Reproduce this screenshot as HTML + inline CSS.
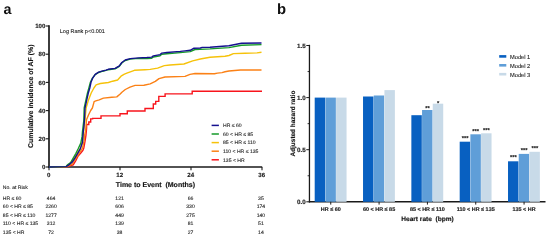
<!DOCTYPE html>
<html><head><meta charset="utf-8"><style>
html,body{margin:0;padding:0;background:#fff;}
svg{display:block;font-family:"Liberation Sans", sans-serif;will-change:transform;text-rendering:geometricPrecision;}
</style></head><body>
<svg width="550" height="238" viewBox="0 0 550 238">
<rect width="550" height="238" fill="#fff"/>
<text x="3.5" y="13.9" font-size="14.3" font-weight="bold" fill="#111">a</text>
<line x1="49" y1="25.3" x2="49" y2="167.8" stroke="#1a1a1a" stroke-width="1.7"/>
<line x1="45.8" y1="167.00" x2="49" y2="167.00" stroke="#1a1a1a" stroke-width="1.1"/>
<text x="45.3" y="169.15" font-size="6.1" font-weight="bold" stroke="#222" stroke-width="0.15" text-anchor="end" fill="#222">0</text>
<line x1="45.8" y1="138.80" x2="49" y2="138.80" stroke="#1a1a1a" stroke-width="1.1"/>
<text x="45.3" y="140.95" font-size="6.1" font-weight="bold" stroke="#222" stroke-width="0.15" text-anchor="end" fill="#222">20</text>
<line x1="45.8" y1="110.60" x2="49" y2="110.60" stroke="#1a1a1a" stroke-width="1.1"/>
<text x="45.3" y="112.75" font-size="6.1" font-weight="bold" stroke="#222" stroke-width="0.15" text-anchor="end" fill="#222">40</text>
<line x1="45.8" y1="82.40" x2="49" y2="82.40" stroke="#1a1a1a" stroke-width="1.1"/>
<text x="45.3" y="84.55" font-size="6.1" font-weight="bold" stroke="#222" stroke-width="0.15" text-anchor="end" fill="#222">60</text>
<line x1="45.8" y1="54.20" x2="49" y2="54.20" stroke="#1a1a1a" stroke-width="1.1"/>
<text x="45.3" y="56.35" font-size="6.1" font-weight="bold" stroke="#222" stroke-width="0.15" text-anchor="end" fill="#222">80</text>
<line x1="45.8" y1="26.00" x2="49" y2="26.00" stroke="#1a1a1a" stroke-width="1.1"/>
<text x="45.3" y="28.15" font-size="6.1" font-weight="bold" stroke="#222" stroke-width="0.15" text-anchor="end" fill="#222">100</text>
<line x1="48.2" y1="167" x2="262.2" y2="167" stroke="#1a1a1a" stroke-width="1.6"/>
<line x1="49" y1="167" x2="49" y2="170.2" stroke="#1a1a1a" stroke-width="1.1"/>
<text x="48.7" y="177" font-size="6.1" font-weight="bold" stroke="#222" stroke-width="0.15" text-anchor="middle" fill="#222">0</text>
<line x1="120" y1="167" x2="120" y2="170.2" stroke="#1a1a1a" stroke-width="1.1"/>
<text x="119.7" y="177" font-size="6.1" font-weight="bold" stroke="#222" stroke-width="0.15" text-anchor="middle" fill="#222">12</text>
<line x1="191" y1="167" x2="191" y2="170.2" stroke="#1a1a1a" stroke-width="1.1"/>
<text x="190.7" y="177" font-size="6.1" font-weight="bold" stroke="#222" stroke-width="0.15" text-anchor="middle" fill="#222">24</text>
<line x1="262" y1="167" x2="262" y2="170.2" stroke="#1a1a1a" stroke-width="1.1"/>
<text x="261.7" y="177" font-size="6.1" font-weight="bold" stroke="#222" stroke-width="0.15" text-anchor="middle" fill="#222">36</text>
<text x="155.4" y="187" font-size="7" font-weight="bold" stroke="#222" stroke-width="0.15" text-anchor="middle" fill="#111" xml:space="preserve">Time to Event  (Months)</text>
<text transform="translate(32.8,96.2) rotate(-90)" font-size="6.95" font-weight="bold" stroke="#222" stroke-width="0.15" text-anchor="middle" fill="#111">Cumulative incidence of AF (%)</text>
<text x="59.8" y="33" font-size="5.5" fill="#222" stroke="#222" stroke-width="0.1">Log Rank p&lt;0.001</text>
<path d="M49,167 H66.1 L69,166 L73.2,164.8 L75.8,160.6 L77.9,156.4 L80.8,153 L82.9,150.5 L83.8,148 L85,141.4 L85.9,135.6 L86.4,130.5 L86.6,128 V124.5 H88.8 V122 H90.7 V118.9 H92.6 V118.4 H101 V115.9 H120 V113.8 H127.3 V111 H145 V108.5 H153.3 V104 H155.7 V101.4 H158.8 V96.4 H165.1 V93.9 H192.2 V91.3 H262" fill="none" stroke="#f8141c" stroke-width="1.4"/>
<polyline points="49.0,167.0 66.1,166.6 69.0,165.5 72.4,164.0 76.6,157.2 81.6,149.7 82.5,148.0 84.2,140.6 84.6,135.6 85.4,131.4 85.9,128.0 86.5,119.8 88.6,114.7 90.7,110.5 92.4,108.0 94.2,101.4 95.0,101.2 99.2,99.8 103.4,98.1 111.8,97.2 116.8,96.9 120.2,94.0 121.9,92.2 125.3,89.5 130.0,87.1 135.1,85.4 143.9,85.2 150.2,83.9 155.3,81.4 159.0,78.6 165.0,77.0 185.0,76.4 190.0,74.4 195.1,73.5 214.4,73.8 217.5,73.1 222.0,72.6 225.0,71.8 229.0,71.0 240.5,70.0 261.5,70.0" fill="none" stroke="#fb8116" stroke-width="1.4" stroke-linejoin="round"/>
<polyline points="49.0,167.0 66.1,166.6 69.5,164.0 73.0,160.0 74.9,156.8 77.5,152.5 80.4,148.4 82.8,140.0 83.6,130.0 85.0,120.0 86.1,108.0 88.3,100.6 91.2,93.0 93.9,88.0 96.1,84.8 100.3,83.5 108.4,82.5 112.6,81.2 117.6,80.0 121.0,76.2 124.4,74.1 127.5,72.9 131.0,71.6 134.4,70.3 145.0,69.7 150.2,69.4 157.6,68.1 164.3,65.6 170.0,65.0 183.9,64.0 192.7,60.9 200.3,59.0 210.0,57.3 225.0,56.3 229.0,55.5 233.4,53.6 245.0,53.3 257.0,52.9 261.5,52.2" fill="none" stroke="#f6c20a" stroke-width="1.4" stroke-linejoin="round"/>
<polyline points="49.0,167.0 66.1,166.6 67.4,164.8 70.7,162.7 73.2,158.1 75.8,153.5 78.3,148.5 80.8,143.1 82.1,136.4 82.5,131.4 82.9,128.0 83.8,120.6 84.2,108.0 85.8,100.6 87.5,93.0 88.9,88.0 90.4,82.3 92.4,78.1 95.2,74.6 98.6,72.5 102.8,71.2 106.0,70.4 108.2,69.7 115.1,68.8 119.3,66.4 121.8,63.0 125.2,60.5 130.2,59.1 138.6,58.4 146.9,58.6 151.7,58.2 153.4,57.0 160.1,55.7 161.8,54.3 166.8,53.7 180.3,52.6 190.2,51.6 195.0,49.5 210.0,48.9 228.9,47.6 241.5,45.2 261.5,44.6" fill="none" stroke="#169a2a" stroke-width="1.4" stroke-linejoin="round"/>
<polyline points="49.0,167.0 66.1,166.6 69.0,164.8 72.4,161.9 74.9,158.1 77.4,153.9 80.4,148.6 82.5,142.3 82.9,136.4 83.3,131.4 83.8,128.0 84.6,118.1 85.0,108.0 86.6,100.6 88.3,93.0 89.8,88.0 91.0,82.3 92.7,78.1 95.2,74.3 98.6,72.2 102.8,70.9 106.0,70.1 108.2,69.3 115.1,68.4 119.3,65.9 121.8,62.5 125.2,60.0 130.2,58.6 138.6,57.9 146.9,57.5 151.7,57.1 153.4,55.9 160.1,54.6 161.8,53.1 166.8,52.5 180.3,51.4 185.0,50.9 190.2,50.3 194.0,48.2 200.3,48.0 202.2,47.4 210.0,47.2 228.9,45.8 241.5,43.2 261.5,43.0" fill="none" stroke="#15108f" stroke-width="1.4" stroke-linejoin="round"/>
<line x1="211.6" y1="125.40" x2="218.9" y2="125.40" stroke="#15108f" stroke-width="1.5"/>
<text x="223" y="127.20" font-size="5.1" fill="#222" stroke="#222" stroke-width="0.1">HR ≤ 60</text>
<line x1="211.6" y1="134.00" x2="218.9" y2="134.00" stroke="#169a2a" stroke-width="1.5"/>
<text x="223" y="135.80" font-size="5.1" fill="#222" stroke="#222" stroke-width="0.1">60 &lt; HR ≤ 85</text>
<line x1="211.6" y1="142.60" x2="218.9" y2="142.60" stroke="#f6c20a" stroke-width="1.5"/>
<text x="223" y="144.40" font-size="5.1" fill="#222" stroke="#222" stroke-width="0.1">85 &lt; HR ≤ 110</text>
<line x1="211.6" y1="151.20" x2="218.9" y2="151.20" stroke="#fb8116" stroke-width="1.5"/>
<text x="223" y="153.00" font-size="5.1" fill="#222" stroke="#222" stroke-width="0.1">110 &lt; HR ≤ 135</text>
<line x1="211.6" y1="159.80" x2="218.9" y2="159.80" stroke="#f8141c" stroke-width="1.5"/>
<text x="223" y="161.60" font-size="5.1" fill="#222" stroke="#222" stroke-width="0.1">135 &lt; HR</text>
<text x="2.8" y="188.8" font-size="5.1" fill="#222" stroke="#222" stroke-width="0.1">No. at Risk</text>
<text x="2.8" y="199.80" font-size="5.1" fill="#222" stroke="#222" stroke-width="0.1">HR ≤ 60</text>
<text x="51.1" y="199.80" font-size="5.1" text-anchor="middle" fill="#222" stroke="#222" stroke-width="0.1">464</text>
<text x="119.6" y="199.80" font-size="5.1" text-anchor="middle" fill="#222" stroke="#222" stroke-width="0.1">121</text>
<text x="190.5" y="199.80" font-size="5.1" text-anchor="middle" fill="#222" stroke="#222" stroke-width="0.1">66</text>
<text x="260.9" y="199.80" font-size="5.1" text-anchor="middle" fill="#222" stroke="#222" stroke-width="0.1">35</text>
<text x="2.8" y="208.35" font-size="5.1" fill="#222" stroke="#222" stroke-width="0.1">60 &lt; HR ≤ 85</text>
<text x="51.1" y="208.35" font-size="5.1" text-anchor="middle" fill="#222" stroke="#222" stroke-width="0.1">2260</text>
<text x="119.6" y="208.35" font-size="5.1" text-anchor="middle" fill="#222" stroke="#222" stroke-width="0.1">606</text>
<text x="190.5" y="208.35" font-size="5.1" text-anchor="middle" fill="#222" stroke="#222" stroke-width="0.1">330</text>
<text x="260.9" y="208.35" font-size="5.1" text-anchor="middle" fill="#222" stroke="#222" stroke-width="0.1">174</text>
<text x="2.8" y="216.90" font-size="5.1" fill="#222" stroke="#222" stroke-width="0.1">85 &lt; HR ≤ 110</text>
<text x="51.1" y="216.90" font-size="5.1" text-anchor="middle" fill="#222" stroke="#222" stroke-width="0.1">1277</text>
<text x="119.6" y="216.90" font-size="5.1" text-anchor="middle" fill="#222" stroke="#222" stroke-width="0.1">449</text>
<text x="190.5" y="216.90" font-size="5.1" text-anchor="middle" fill="#222" stroke="#222" stroke-width="0.1">275</text>
<text x="260.9" y="216.90" font-size="5.1" text-anchor="middle" fill="#222" stroke="#222" stroke-width="0.1">140</text>
<text x="2.8" y="225.45" font-size="5.1" fill="#222" stroke="#222" stroke-width="0.1">110 &lt; HR ≤ 135</text>
<text x="51.1" y="225.45" font-size="5.1" text-anchor="middle" fill="#222" stroke="#222" stroke-width="0.1">312</text>
<text x="119.6" y="225.45" font-size="5.1" text-anchor="middle" fill="#222" stroke="#222" stroke-width="0.1">139</text>
<text x="190.5" y="225.45" font-size="5.1" text-anchor="middle" fill="#222" stroke="#222" stroke-width="0.1">81</text>
<text x="260.9" y="225.45" font-size="5.1" text-anchor="middle" fill="#222" stroke="#222" stroke-width="0.1">51</text>
<text x="2.8" y="234.00" font-size="5.1" fill="#222" stroke="#222" stroke-width="0.1">135 &lt; HR</text>
<text x="51.1" y="234.00" font-size="5.1" text-anchor="middle" fill="#222" stroke="#222" stroke-width="0.1">72</text>
<text x="119.6" y="234.00" font-size="5.1" text-anchor="middle" fill="#222" stroke="#222" stroke-width="0.1">38</text>
<text x="190.5" y="234.00" font-size="5.1" text-anchor="middle" fill="#222" stroke="#222" stroke-width="0.1">27</text>
<text x="260.9" y="234.00" font-size="5.1" text-anchor="middle" fill="#222" stroke="#222" stroke-width="0.1">14</text>
<text x="277.1" y="13.9" font-size="14.8" font-weight="bold" fill="#111">b</text>
<line x1="309.45" y1="44.8" x2="309.45" y2="202.5" stroke="#1a1a1a" stroke-width="1.3"/>
<line x1="306.3" y1="201.80" x2="309.45" y2="201.80" stroke="#1a1a1a" stroke-width="1.0"/>
<text x="305.7" y="204.10" font-size="6.2" font-weight="bold" stroke="#222" stroke-width="0.15" text-anchor="end" fill="#222">0.0</text>
<line x1="306.3" y1="149.70" x2="309.45" y2="149.70" stroke="#1a1a1a" stroke-width="1.0"/>
<text x="305.7" y="152.00" font-size="6.2" font-weight="bold" stroke="#222" stroke-width="0.15" text-anchor="end" fill="#222">0.5</text>
<line x1="306.3" y1="97.60" x2="309.45" y2="97.60" stroke="#1a1a1a" stroke-width="1.0"/>
<text x="305.7" y="99.90" font-size="6.2" font-weight="bold" stroke="#222" stroke-width="0.15" text-anchor="end" fill="#222">1.0</text>
<line x1="306.3" y1="45.50" x2="309.45" y2="45.50" stroke="#1a1a1a" stroke-width="1.0"/>
<text x="305.7" y="47.80" font-size="6.2" font-weight="bold" stroke="#222" stroke-width="0.15" text-anchor="end" fill="#222">1.5</text>
<line x1="307.6" y1="175.75" x2="309.45" y2="175.75" stroke="#1a1a1a" stroke-width="0.9"/>
<line x1="307.6" y1="123.65" x2="309.45" y2="123.65" stroke="#1a1a1a" stroke-width="0.9"/>
<line x1="307.6" y1="71.55" x2="309.45" y2="71.55" stroke="#1a1a1a" stroke-width="0.9"/>
<line x1="308.84999999999997" y1="201.8" x2="545.5" y2="201.8" stroke="#1a1a1a" stroke-width="1.4"/>
<text transform="translate(295.0,123.6) rotate(-90)" font-size="6.45" font-weight="bold" stroke="#222" stroke-width="0.15" text-anchor="middle" fill="#111">Adjusted hazard ratio</text>
<rect x="314.70" y="97.6" width="10.45" height="104.20" fill="#0860c1"/>
<rect x="325.40" y="97.6" width="10.45" height="104.20" fill="#5f9ed8"/>
<rect x="336.10" y="97.6" width="10.45" height="104.20" fill="#c8dae8"/>
<line x1="330.75" y1="201.8" x2="330.75" y2="204.6" stroke="#1a1a1a" stroke-width="1.0"/>
<text x="330.75" y="211" font-size="5.45" font-weight="bold" stroke="#222" stroke-width="0.15" text-anchor="middle" fill="#222">HR ≤ 60</text>
<rect x="363.03" y="96.5" width="10.45" height="105.30" fill="#0860c1"/>
<rect x="373.73" y="95.5" width="10.45" height="106.30" fill="#5f9ed8"/>
<rect x="384.43" y="90.1" width="10.45" height="111.70" fill="#c8dae8"/>
<line x1="379.08" y1="201.8" x2="379.08" y2="204.6" stroke="#1a1a1a" stroke-width="1.0"/>
<text x="379.08" y="211" font-size="5.45" font-weight="bold" stroke="#222" stroke-width="0.15" text-anchor="middle" fill="#222">60 &lt; HR ≤ 85</text>
<rect x="411.36" y="115.2" width="10.45" height="86.60" fill="#0860c1"/>
<rect x="422.06" y="110" width="10.45" height="91.80" fill="#5f9ed8"/>
<rect x="432.76" y="103.7" width="10.45" height="98.10" fill="#c8dae8"/>
<line x1="427.41" y1="201.8" x2="427.41" y2="204.6" stroke="#1a1a1a" stroke-width="1.0"/>
<text x="427.41" y="211" font-size="5.45" font-weight="bold" stroke="#222" stroke-width="0.15" text-anchor="middle" fill="#222">85 &lt; HR ≤ 110</text>
<rect x="459.69" y="141.7" width="10.45" height="60.10" fill="#0860c1"/>
<rect x="470.39" y="134.3" width="10.45" height="67.50" fill="#5f9ed8"/>
<rect x="481.09" y="133.3" width="10.45" height="68.50" fill="#c8dae8"/>
<line x1="475.74" y1="201.8" x2="475.74" y2="204.6" stroke="#1a1a1a" stroke-width="1.0"/>
<text x="475.74" y="211" font-size="5.45" font-weight="bold" stroke="#222" stroke-width="0.15" text-anchor="middle" fill="#222">110 &lt; HR ≤ 135</text>
<rect x="508.02" y="161.3" width="10.45" height="40.50" fill="#0860c1"/>
<rect x="518.72" y="153.9" width="10.45" height="47.90" fill="#5f9ed8"/>
<rect x="529.42" y="151.8" width="10.45" height="50.00" fill="#c8dae8"/>
<line x1="524.07" y1="201.8" x2="524.07" y2="204.6" stroke="#1a1a1a" stroke-width="1.0"/>
<text x="524.07" y="211" font-size="5.45" font-weight="bold" stroke="#222" stroke-width="0.15" text-anchor="middle" fill="#222">135 &lt; HR</text>
<text x="427.5" y="221.1" font-size="6.55" font-weight="bold" stroke="#222" stroke-width="0.15" text-anchor="middle" fill="#111" xml:space="preserve">Heart rate  (bpm)</text>
<text x="427.41" y="110.20" font-size="5.8" font-weight="bold" stroke="#222" stroke-width="0.15" text-anchor="middle" fill="#222">**</text>
<text x="438.11" y="104.60" font-size="5.8" font-weight="bold" stroke="#222" stroke-width="0.15" text-anchor="middle" fill="#222">*</text>
<text x="465.04" y="140.00" font-size="5.8" font-weight="bold" stroke="#222" stroke-width="0.15" text-anchor="middle" fill="#222">***</text>
<text x="475.74" y="133.10" font-size="5.8" font-weight="bold" stroke="#222" stroke-width="0.15" text-anchor="middle" fill="#222">***</text>
<text x="486.44" y="132.30" font-size="5.8" font-weight="bold" stroke="#222" stroke-width="0.15" text-anchor="middle" fill="#222">***</text>
<text x="513.37" y="159.00" font-size="5.8" font-weight="bold" stroke="#222" stroke-width="0.15" text-anchor="middle" fill="#222">***</text>
<text x="524.07" y="152.30" font-size="5.8" font-weight="bold" stroke="#222" stroke-width="0.15" text-anchor="middle" fill="#222">***</text>
<text x="534.77" y="150.00" font-size="5.8" font-weight="bold" stroke="#222" stroke-width="0.15" text-anchor="middle" fill="#222">***</text>
<rect x="499.2" y="55.10" width="7.1" height="2.6" fill="#0860c1"/>
<text x="510" y="58.70" font-size="5.7" fill="#222" stroke="#222" stroke-width="0.1">Model 1</text>
<rect x="499.2" y="64.00" width="7.1" height="2.6" fill="#5f9ed8"/>
<text x="510" y="67.60" font-size="5.7" fill="#222" stroke="#222" stroke-width="0.1">Model 2</text>
<rect x="499.2" y="72.90" width="7.1" height="2.6" fill="#c8dae8"/>
<text x="510" y="76.50" font-size="5.7" fill="#222" stroke="#222" stroke-width="0.1">Model 3</text>
</svg>
</body></html>
